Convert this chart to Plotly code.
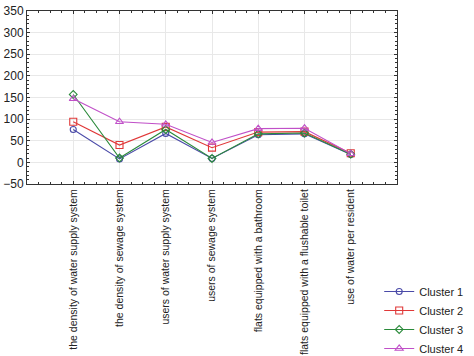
import plotly.graph_objects as go

categories = [
    "the density of water supply system",
    "the density of sewage system",
    "users of water supply system",
    "users of sewage system",
    "flats equipped with a bathroom",
    "flats equipped with a flushable toilet",
    "use of water per resident",
]
cluster1 = [76, 8, 67, 9, 64, 66, 18]
cluster2 = [94, 40, 82, 34, 70, 71, 21]
cluster3 = [157, 10, 76, 9, 66, 68, 19]
cluster4 = [147, 94, 88, 46, 78, 79, 20]
series_names = ["Cluster 1", "Cluster 2", "Cluster 3", "Cluster 4"]
y_ticks = [-50, 0, 50, 100, 150, 200, 250, 300, 350]

colors = ["#4a4aa8", "#e03838", "#2a8a3a", "#c050c8"]
symbols = ["circle-open", "square-open", "diamond-open", "triangle-up-open"]
sizes = [6, 7, 6, 7]

fig = go.Figure()
xs = list(range(len(categories)))
for name, vals, c, s, sz in zip(series_names, [cluster1, cluster2, cluster3, cluster4], colors, symbols, sizes):
    fig.add_trace(go.Scatter(
        x=xs, y=vals, name=name, mode="lines+markers",
        line=dict(color=c, width=1.1),
        marker=dict(symbol=s, size=sz, color=c, line=dict(width=1.1, color=c)),
    ))

fig.update_layout(
    width=474, height=356,
    margin=dict(l=27, r=77, t=11, b=172, autoexpand=False),
    paper_bgcolor="white", plot_bgcolor="white",
    font=dict(family="Liberation Sans, Arial, sans-serif", size=11, color="#222"),
    showlegend=True,
    legend=dict(x=0.80, y=0.222, xref="container", yref="container",
                xanchor="left", yanchor="top",
                font=dict(size=11), bgcolor="rgba(0,0,0,0)",
                tracegroupgap=0, itemwidth=30),
)
fig.update_xaxes(
    range=[-1, 7], tickmode="array", tickvals=xs, ticktext=categories,
    tickangle=-90, tickfont=dict(size=10.5), automargin=False,
    showline=True, linecolor="#333", linewidth=1, mirror="ticks",
    ticks="inside", ticklen=3, tickcolor="#333",
    showgrid=True, gridcolor="#e8e8e8", gridwidth=1, zeroline=False,
    minor=dict(ticks="inside", ticklen=2, tickcolor="#333", dtick=0.25, showgrid=False),
)
fig.update_yaxes(
    range=[-50, 350], tickmode="array", tickvals=y_ticks,
    tickfont=dict(size=12), automargin=False,
    showline=True, linecolor="#333", linewidth=1, mirror="ticks",
    ticks="inside", ticklen=3, tickcolor="#333",
    showgrid=True, gridcolor="#e8e8e8", gridwidth=1, zeroline=False,
    minor=dict(ticks="inside", ticklen=2, tickcolor="#333", dtick=10, showgrid=False),
)

fig.write_html("out.html", config={"displayModeBar": False},
               post_script="document.body.style.margin='0';")
